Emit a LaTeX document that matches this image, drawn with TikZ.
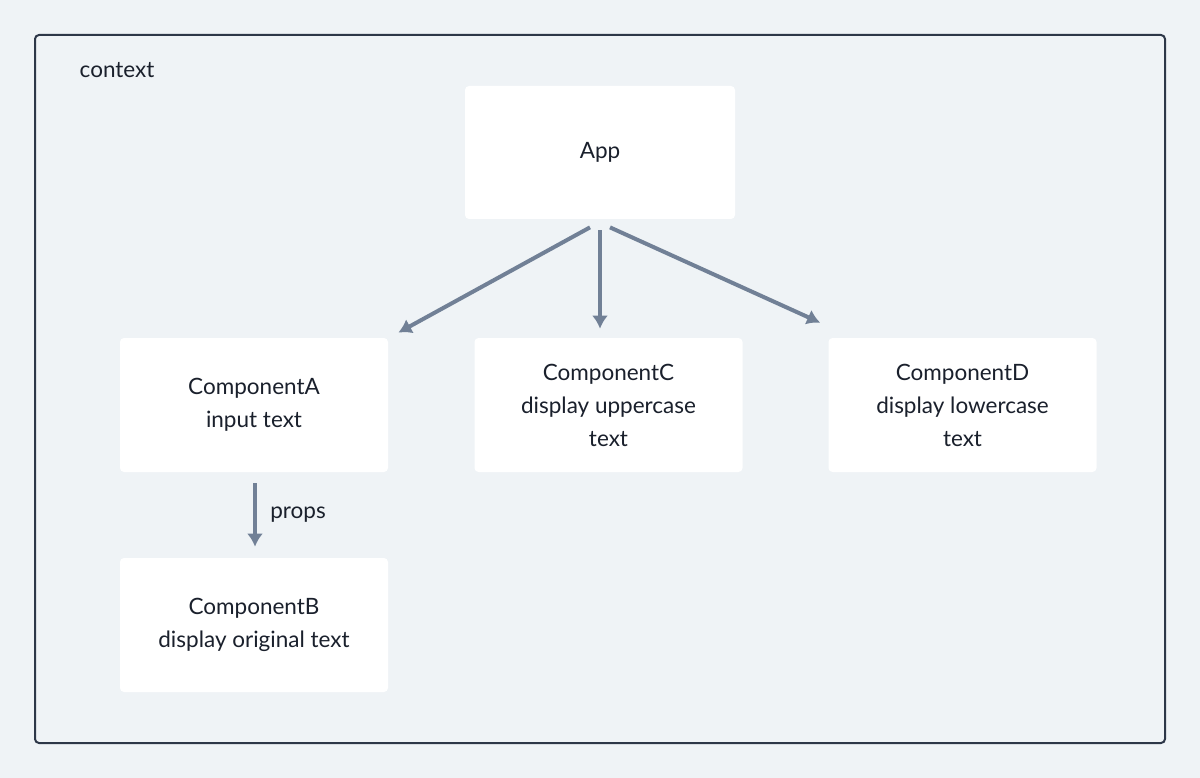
\documentclass[tikz,border=0pt]{standalone}
\usepackage{fontspec}
\setmainfont{Lato}
\usetikzlibrary{arrows.meta,positioning}
\definecolor{bgcol}{RGB}{239,243,246}
\definecolor{framecol}{RGB}{45,55,72}
\definecolor{arrcol}{RGB}{113,128,150}
\definecolor{txtcol}{RGB}{26,32,44}
\tikzset{every picture/.style={line width=0.75pt}}
\begin{document}
\begin{tikzpicture}[x=1pt,y=1pt,yscale=-1,xscale=1,
    box/.style={fill=white,draw=none,rounded corners=4,minimum width=268,minimum height=134,align=center,font=\fontsize{22.5}{33}\selectfont,text=txtcol},
    arr/.style={draw=arrcol,line width=4,-{Latex[length=13,width=16]}}]
        % background
        \useasboundingbox[fill=bgcol] (0,0) rectangle (1200,778);
        % context frame
        \draw[framecol,line width=2,rounded corners=4] (35,35) rectangle (1165,743);
        \node[anchor=west,text=txtcol,font=\fontsize{22.5}{25}\selectfont] (ctx) at (76,70) {context};

        % boxes
        \node[box,minimum width=270,minimum height=133] (app) at (600,152.5) {App};
        \node[box] (compA) at (254,405) {ComponentA\\input text};
        \node[box] (compC) at (608.5,405) {ComponentC\\display uppercase\\text};
        \node[box] (compD) at (962.5,405) {ComponentD\\display lowercase\\text};
        \node[box] (compB) at (254,625) {ComponentB\\display original text};

        % arrows
        \draw[arr] ([shift={(-10,8)}]app.south) -- ([shift={(10,-5)}]compA.north east);
        \draw[arr] ([shift={(0,11)}]app.south) -- ([shift={(-8.5,-9)}]compC.north);
        \draw[arr] ([shift={(10,8)}]app.south) -- ([shift={(-8,-15)}]compD.north west);
        \draw[arr] ([shift={(1,11)}]compA.south) -- node[right=10,text=txtcol,font=\fontsize{22.5}{25}\selectfont] {props} ([shift={(1,-11)}]compB.north);
\end{tikzpicture}
\end{document}
